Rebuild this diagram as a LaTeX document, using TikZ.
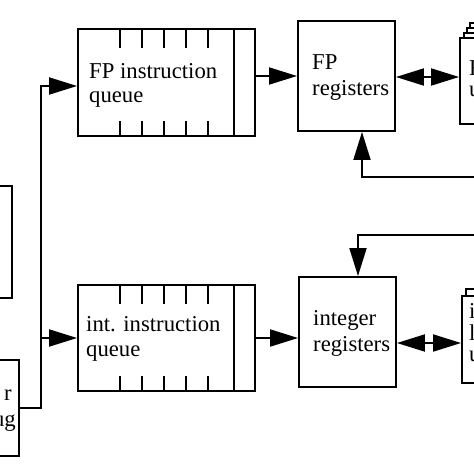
\documentclass[tikz,border=0pt]{standalone}
\usepackage{fontspec}
\setmainfont{Liberation Serif}
\usetikzlibrary{arrows.meta,calc}
\begin{document}
\begin{tikzpicture}[x=1pt,y=-1pt,
  blk/.style={draw, line width=1.9pt, fill=white, inner sep=0pt, rectangle},
  lbl/.style={anchor=base west, inner sep=0pt, font=\fontsize{22.7}{25}\selectfont},
  lble/.style={anchor=base east, inner sep=0pt, font=\fontsize{22.7}{25}\selectfont},
  con/.style={line width=1.9pt, -{Triangle[length=28pt,width=17pt]}},
  bicon/.style={line width=1.9pt, {Triangle[length=28pt,width=17pt]}-{Triangle[length=28pt,width=17pt]}},
  tickline/.style={line width=1.9pt}]
\useasboundingbox (0,0) rectangle (474,474);
\clip (0,0) rectangle (474,474);

% left boxes (mostly cut off)
\node[blk, minimum width=42pt, minimum height=112pt] (ic) at (-9,242) {};
\node[blk, minimum width=59pt, minimum height=96pt] (ren) at (-10.5,408) {};
\node[lble] (rent1) at (12,400) {r};
\node[lble] (rent2) at (16,426) {ug};

% queues
\node[blk, minimum width=177pt, minimum height=107pt] (fpq) at (166.5,82.5) {};
\node[blk, minimum width=177pt, minimum height=106pt] (intq) at (166.5,338) {};
\foreach \q in {fpq,intq}{
  \draw[tickline] ($(\q.north east)+(-22,0)$) -- ($(\q.south east)+(-22,0)$);
  \foreach \i in {43,65,87,109,131}{
    \draw[tickline] ($(\q.north west)+(\i,0)$) -- ++(0,20);
    \draw[tickline] ($(\q.south west)+(\i,0)$) -- ++(0,-16);
  }
}
\node[lbl] (fpqt1) at (89,78) {FP instruction};
\node[lbl] (fpqt2) at (89,102) {queue};
\node[lbl] (intqt1) at (86,331) {int. instruction};
\node[lbl] (intqt2) at (86,356) {queue};

% registers
\node[blk, minimum width=97pt, minimum height=110pt] (fpr) at (346.5,76) {};
\node[blk, minimum width=97pt, minimum height=110pt] (intr) at (347.5,332) {};
\node[lbl] (fprt1) at (312,69) {FP};
\node[lbl] (fprt2) at (312,95) {registers};
\node[lbl] (intrt1) at (313,325) {integer};
\node[lbl] (intrt2) at (313,351) {registers};

% functional units (stacked)
\node[blk, line width=1.4pt, minimum width=70pt, minimum height=86pt] (fpu3) at (505,66) {};
\node[blk, line width=1.4pt, minimum width=70pt, minimum height=86pt] (fpu2) at (502,71) {};
\node[blk, line width=1.4pt, minimum width=70pt, minimum height=86pt] (fpu1) at (499,76) {};
\node[blk, minimum width=70pt, minimum height=86pt] (fpu) at (495,81) {};
\node[lbl] (fput1) at (469,75) {FP};
\node[lbl] (fput2) at (469,96) {units};

\node[blk, line width=1.4pt, minimum width=68pt, minimum height=87pt] (intu1) at (500,332.5) {};
\node[blk, minimum width=68pt, minimum height=87pt] (intu) at (496,339.5) {};
\node[lbl] (intut1) at (469,318) {integer};
\node[lbl] (intut2) at (469,340) {logic};
\node[lbl] (intut3) at (469,361) {units};

% connectors
\draw[con] (ren.east) -| ($(fpq.west)+(-36,3.5)$) -- ($(fpq.west)+(0,3.5)$);
\draw[con] ($(intq.west)+(-36,0)$) -- (intq.west);
\draw[con] (fpq.east |- fpr.west) -- (fpr.west);
\draw[con] (intq.east) -- (intq.east -| intr.west);
\coordinate (fb) at ($(fpr.east)+(0,1)$);
\draw[bicon] (fb) -- (fb -| fpu.west);
\coordinate (ib) at ($(intr.east)+(0,11)$);
\draw[bicon] (ib) -- (ib -| intu.west);
\coordinate (fbA) at (480,177);
\draw[con] (fbA) -| ($(fpr.south)+(15.5,0)$);
\coordinate (fbB) at (480,235);
\draw[con] (fbB) -| ($(intr.north)+(10.5,0)$);
\end{tikzpicture}
\end{document}
